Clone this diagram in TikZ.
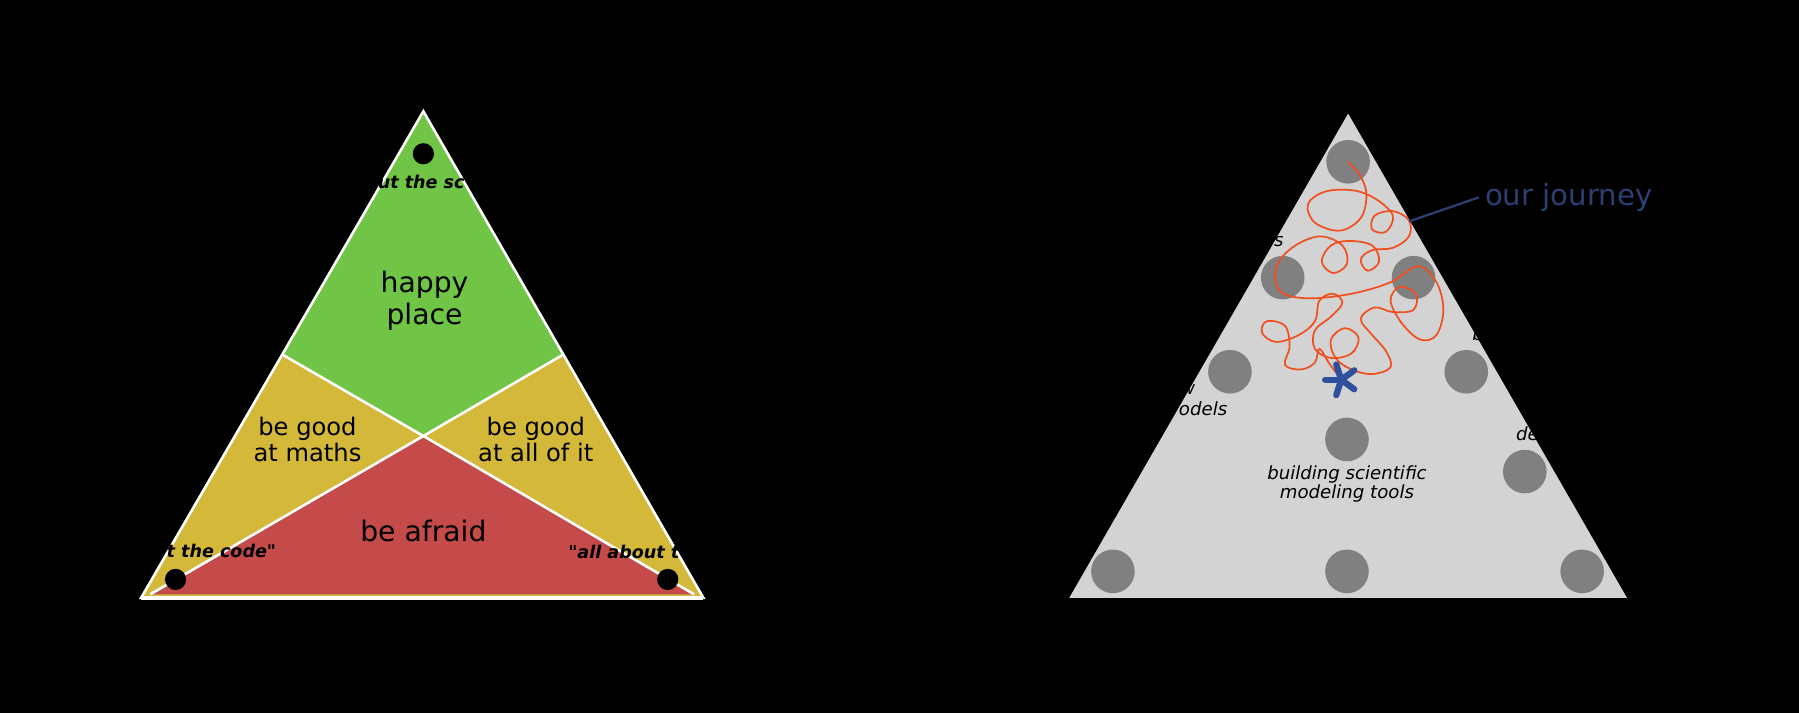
\documentclass[tikz,border=0pt]{standalone}
\usepackage{fontspec}
\setmainfont{DejaVu Sans}
\newfontfamily\cornerfont{DejaVu Sans}
\usetikzlibrary{calc}

\definecolor{happygreen}{HTML}{70C446}
\definecolor{goodyellow}{HTML}{D4B83A}
\definecolor{afraidred}{HTML}{C54A4A}
\definecolor{planegray}{HTML}{D3D3D3}
\definecolor{dotgray}{HTML}{808080}
\definecolor{journeyorange}{HTML}{F05020}
\definecolor{journeyblue}{HTML}{2D3F72}
\definecolor{starblue}{HTML}{2F509A}

\begin{document}
\begin{tikzpicture}[
    x=0.2mm, y=-0.2mm,
    region/.style={
        align=center,
        inner sep=0pt,
        font=\fontsize{14}{15.5}\selectfont
    },
    subregion/.style={region, font=\fontsize{12}{12.8}\selectfont},
    corner/.style={inner sep=0pt, font=\cornerfont\fontsize{8.7}{10}\selectfont\bfseries\itshape},
    topic/.style={region, font=\fontsize{9}{9.7}\selectfont\itshape},
    blackdot/.style={circle, fill=black, minimum size=3.7mm, inner sep=0pt},
    graydot/.style={circle, fill=dotgray, minimum size=7.6mm, inner sep=0pt},
    edge/.style={white, line width=0.45mm}
]

% background
\fill[black] (0,0) rectangle (1568,621);

% === LEFT TRIANGLE ===
\coordinate (apexL) at (369,97);
\coordinate (blL) at (123,521);
\coordinate (brL) at (613,521);
\coordinate (midl) at ($(apexL)!0.5!(blL)$);
\coordinate (midr) at ($(apexL)!0.5!(brL)$);
\coordinate (cen) at (369,380);
\coordinate (redl) at (131,518);
\coordinate (redr) at (605,518);

% Regioni
\fill[goodyellow] (apexL) -- (blL) -- (brL) -- cycle;
\fill[happygreen] (apexL) -- (midl) -- (cen) -- (midr) -- cycle;
\fill[afraidred] (cen) -- (redl) -- (redr) -- cycle;

% Bordi bianchi
\draw[edge] (midl) -- (cen) -- (midr);
\draw[edge] (redl) -- (cen) -- (redr);
\draw[edge] (apexL) -- (blL) -- (brL) -- cycle;
\draw[edge, line width=0.7mm] (blL) -- (brL);

% Testi delle regioni
\node[region] (happy) at (370,262) {happy\\place};
\node[subregion] (maths) at (268,383) {be good\\at maths};
\node[subregion] (allofit) at (467,383) {be good\\at all of it};
\node[region] (afraid) at (369,463) {be afraid};

% Vertici
\node[blackdot] (ptop) at (369,134) {};
\node[blackdot] (pleft) at (153,505) {};
\node[blackdot] (pright) at (582,505) {};
\node[corner, anchor=base west] (ltop) at (329,164) {ut the sc};
\node[corner, anchor=base east] (lleft) at (241,486) {t the code"};
\node[corner, anchor=base west] (lright) at (495,487) {"all about t};

% === RIGHT TRIANGLE ===
\fill[planegray] (1175,99) -- (932,521) -- (1418,521) -- cycle;

% Punti
\node[graydot] (vtop) at (1175,141) {};
\node[graydot] (el1) at (1118,242) {};
\node[graydot] (er1) at (1232,242) {};
\node[graydot] (el2) at (1072,324) {};
\node[graydot] (er2) at (1278,324) {};
\node[graydot] (mid) at (1174,383) {};
\node[graydot] (er3) at (1329,411) {};
\node[graydot] (bl) at (970,498) {};
\node[graydot] (bm) at (1174,498) {};
\node[graydot] (br) at (1379,498) {};

% Etichette
\node[topic] (tools) at (1174,422) {building scientific\\modeling tools};
\node[topic, anchor=base east] (ts) at (1119,215) {s};
\node[topic, anchor=base east] (tw) at (1042,344) {w};
\node[topic, anchor=base east] (todels) at (1070,362) {odels};
\node[topic, anchor=base west] (tb) at (1283,297) {b};
\node[topic, anchor=base west] (tde) at (1321,384) {de};

% Percorso
\coordinate (star) at (1169,331);
\draw[journeyorange, line width=0.3mm, line join=round] plot[smooth, tension=0.6] coordinates {
    (vtop.center) (1186,154) (1191,170) (1186,190) (1168,201) (1146,194) (1140,178)
    (1155,167) (1180,166) (1200,174) (1214,188) (1208,202) (1196,200) (1198,188)
    (1214,184) (1228,192) (1228,206) (1214,216) (1196,218) (1186,226) (1192,236)
    (1202,228) (1196,214) (1176,210) (1160,214) (1152,228) (1162,238) (1174,230)
    (1170,214) (1150,206) (1126,216) (1112,234) (1116,254) (1140,260) (1178,256)
    (1212,246) (1236,232) (1252,246) (1258,270) (1252,292) (1238,296) (1222,282)
    (1212,262) (1220,250) (1234,256) (1232,270) (1214,272) (1198,268) (1186,278)
    (1196,292) (1208,306) (1212,320) (1196,326) (1178,322) (1164,312) (1160,296)
    (1172,286) (1184,294) (1178,308) (1160,312) (1146,304) (1146,288) (1160,276)
    (1170,264) (1162,256) (1150,262) (1146,280) (1132,292) (1112,298) (1100,290)
    (1104,280) (1120,284) (1124,302) (1120,318) (1134,322) (1146,316) (1150,304)
    (1158,316) (star)};

% Stella
\foreach \a in {36,108,180,252,324}
    \draw[starblue, line width=1.1mm, line cap=round] (star) -- ++(\a:14);

% our journey
\coordinate (journeytip) at (1228,193);
\node[anchor=base west, inner ysep=0pt, inner xsep=1mm, text=journeyblue,
      font=\fontsize{14.5}{16}\selectfont] (journey) at (1289,179) {our journey};
\draw[journeyblue, line width=0.4mm] (journeytip) -- (journey.west);

\end{tikzpicture}
\end{document}
